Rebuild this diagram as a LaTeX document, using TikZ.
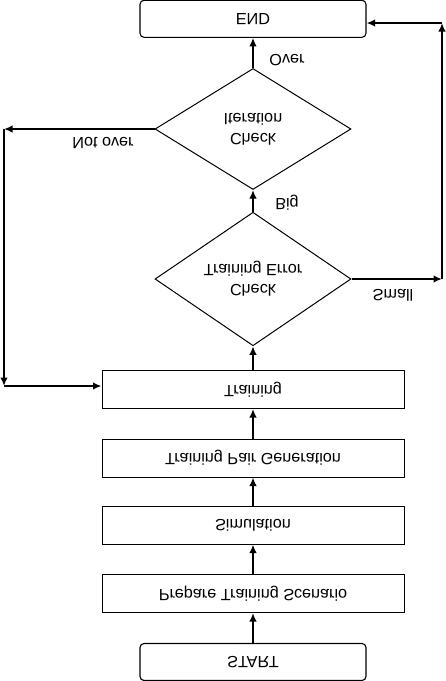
\documentclass[tikz,border=0pt]{standalone}
\usepackage{fontspec}
\setmainfont{Liberation Sans}
\usetikzlibrary{shapes.geometric,arrows.meta}
\begin{document}
\begin{tikzpicture}[x=1pt, y=-1pt,
    every node/.style={font=\fontsize{16.2}{20}\selectfont, yscale=-1},
    stepbox/.style={draw, line width=1pt, minimum width=302pt, minimum height=38pt, inner sep=0pt},
    termbox/.style={draw, line width=1.1pt, rounded corners=4pt, minimum width=226pt, minimum height=37pt, inner sep=0pt},
    checkbox/.style={draw, diamond, line width=1pt, minimum width=196pt, minimum height=121pt, inner sep=0pt, align=center},
    arr/.style={-{Latex[length=8.5pt,width=7.5pt]}, line width=1.7pt},
    lbl/.style={inner sep=0pt}]
    \useasboundingbox (0,0) rectangle (446,681);
    % terminals
    \node[termbox] (endn) at (253,18.8) {END};
    \node[termbox] (start) at (253,662) {START};
    % process boxes
    \foreach \name/\y/\txt in {train/389.5/Training, pair/458/Training Pair Generation, sim/525/Simulation, prep/593.5/Prepare Training Scenario} {
      \node[stepbox] (\name) at (253,\y) {\txt};
    }
    % checks
    \node[checkbox] (iter) at (253,129) {Check\\Iteration};
    \node[checkbox] (terr) at (253,279) {Check\\Training Error};
    % main flow
    \draw[arr] (start) -- (prep);
    \draw[arr] (prep) -- (sim);
    \draw[arr] (sim) -- (pair);
    \draw[arr] (pair) -- (train);
    \draw[arr] (train) -- (terr);
    \draw[arr] (terr) -- (iter);
    \draw[arr] (iter) -- (endn);
    % small error loop
    \coordinate (sm1) at (442,279);
    \coordinate (sm2) at (442,23);
    \draw[arr] (terr.east) -- (sm1);
    \draw[arr] (sm1) -- (sm2);
    \draw[arr] (sm2) -- (sm2 -| endn.east);
    % not over loop
    \coordinate (no1) at (4,129);
    \coordinate (no2) at (4,386);
    \draw[arr] (iter.west) -- (no1);
    \draw[arr] (no1) -- (no2);
    \draw[arr] (no2) -- (no2 -| train.west);
    % labels
    \node[lbl] (over) at (287,60) {Over};
    \node[lbl] (big) at (287,203) {Big};
    \node[lbl] (small) at (393,295) {Small};
    \node[lbl] (notover) at (103,143) {Not over};
\end{tikzpicture}
\end{document}
